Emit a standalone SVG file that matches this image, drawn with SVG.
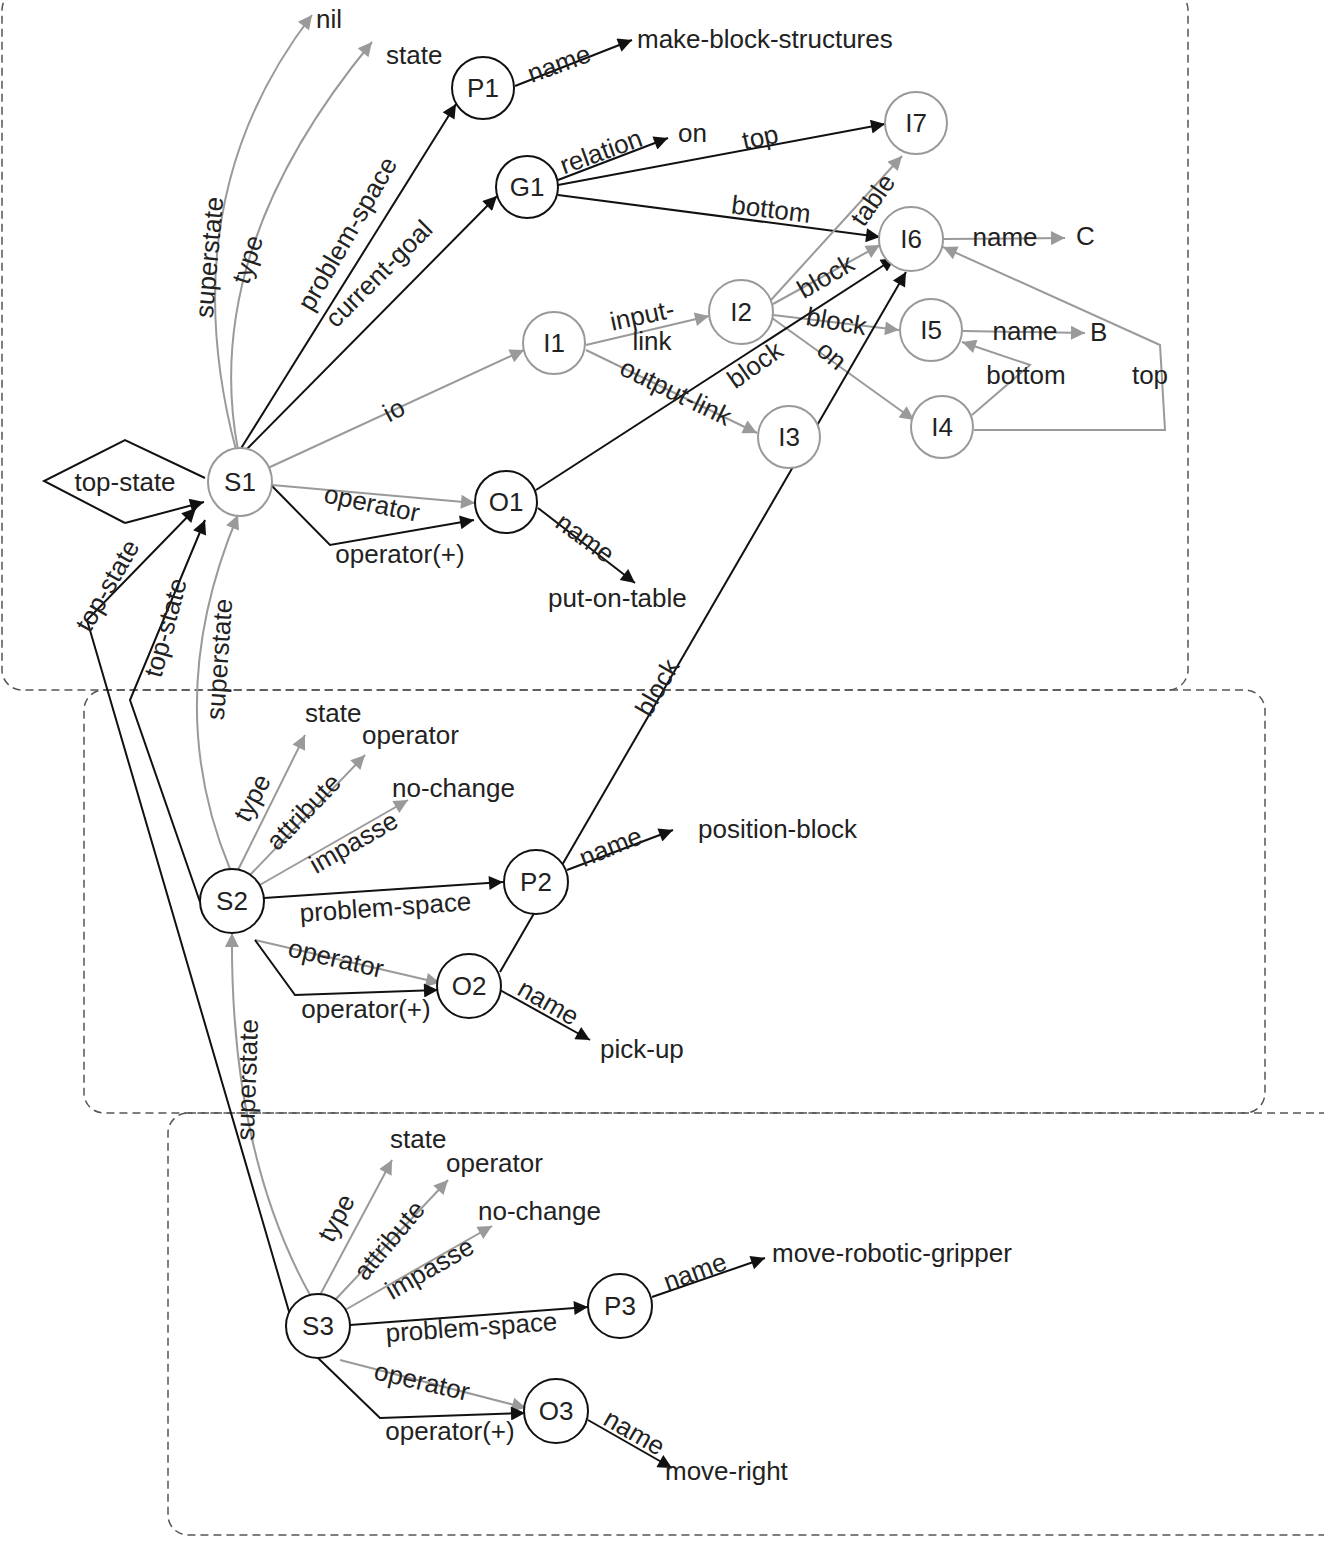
<svg xmlns="http://www.w3.org/2000/svg" width="1324" height="1547" viewBox="0 0 1324 1547">
<style>
text{font-family:"Liberation Sans",Arial,sans-serif;font-size:26px;fill:#222}
.n{text-anchor:middle;dominant-baseline:central}
.l{text-anchor:middle}
.k{fill:none;stroke:#111;stroke-width:2;marker-end:url(#ak)}
.g{fill:none;stroke:#9a9a9a;stroke-width:2;marker-end:url(#ag)}
.ck{fill:#fff;stroke:#111;stroke-width:2}
.cg{fill:#fff;stroke:#999;stroke-width:2}
.box{fill:none;stroke:#555;stroke-width:1.5;stroke-dasharray:8,5}
</style>
<defs>
<marker id="ak" viewBox="0 0 10 10" refX="10" refY="5" markerWidth="18" markerHeight="14" markerUnits="userSpaceOnUse" orient="auto"><path d="M0,0L10,5L0,10z" fill="#111"/></marker>
<marker id="ag" viewBox="0 0 10 10" refX="10" refY="5" markerWidth="18" markerHeight="14" markerUnits="userSpaceOnUse" orient="auto"><path d="M0,0L10,5L0,10z" fill="#9a9a9a"/></marker>
</defs>
<rect class="box" x="2" y="-10" width="1186" height="700" rx="20"/>
<rect class="box" x="84" y="690" width="1181" height="423" rx="20"/>
<rect class="box" x="168" y="1113" width="1180" height="422" rx="20"/>
<g id="connectors">
<path class="g" d="M236,450 Q170,200 312,15"/>
<path class="g" d="M238,450 Q200,250 372,42"/>
<path class="k" d="M240,450 L456,104"/>
<path class="k" d="M244,452 L497,196"/>
<path class="g" d="M268,468 L524,350"/>
<path class="g" d="M272,485 L475,503"/>
<path class="k" d="M272,486 L330,545 L474,520"/>
<path class="k" d="M515,86 L632,40"/>
<path class="k" d="M558,180 L668,138"/>
<path class="k" d="M558,185 L885,124"/>
<path class="k" d="M558,195 L880,237"/>
<path class="g" d="M773,304 L880,245"/>
<path class="g" d="M771,300 L902,156"/>
<path class="g" d="M943,239 L1065,238"/>
<path class="g" d="M974,430 L1165,430 L1160,345 L943,247"/>
<path class="g" d="M963,331 L1085,333"/>
<path class="g" d="M972,415 L1030,365 L962,342"/>
<path class="g" d="M586,345 L709,316"/>
<path class="g" d="M586,350 L757,433"/>
<path class="g" d="M773,315 L899,330"/>
<path class="g" d="M772,318 L914,420"/>
<path class="k" d="M536,490 L895,258"/>
<path class="k" d="M538,508 L635,583"/>
<path class="k" d="M500,972 L906,272"/>
<path class="k" d="M567,870 L673,830"/>
<path class="g" d="M230,869 Q160,700 238,515"/>
<path class="k" d="M200,902 L130,700 L205,520"/>
<path class="k" d="M290,1315 L87,620 L196,508"/>
<path class="k" d="M125,523 L204,502"/>
<path class="g" d="M238,870 L305,735"/>
<path class="g" d="M250,875 L365,755"/>
<path class="g" d="M258,886 L408,800"/>
<path class="k" d="M264,898 L503,882"/>
<path class="g" d="M255,940 L440,983"/>
<path class="k" d="M255,940 L295,995 L438,990"/>
<path class="k" d="M500,990 L590,1040"/>
<path class="g" d="M310,1295 Q230,1150 232,933"/>
<path class="g" d="M320,1295 L392,1160"/>
<path class="g" d="M335,1300 L448,1180"/>
<path class="g" d="M345,1310 L492,1226"/>
<path class="k" d="M350,1325 L588,1307"/>
<path class="g" d="M340,1360 L526,1408"/>
<path class="k" d="M318,1358 L380,1418 L525,1413"/>
<path class="k" d="M652,1297 L765,1258"/>
<path class="k" d="M588,1420 L672,1468"/>
</g>
<g id="edge-labels">
<text class="l" transform="translate(218,258) rotate(-85)">superstate</text>
<text class="l" transform="translate(256,262) rotate(-72)">type</text>
<text class="l" transform="translate(355,238) rotate(-60)">problem-space</text>
<text class="l" transform="translate(385,280) rotate(-45)">current-goal</text>
<text class="l" transform="translate(398,418) rotate(-28)">io</text>
<text class="l" transform="translate(370,512) rotate(12)">operator</text>
<text class="l" x="400" y="563">operator(+)</text>
<text class="l" transform="translate(562,72) rotate(-20)">name</text>
<text class="l" transform="translate(604,160) rotate(-20)">relation</text>
<text class="l" transform="translate(762,146) rotate(-12)">top</text>
<text class="l" transform="translate(770,218) rotate(7)">bottom</text>
<text class="l" transform="translate(830,284) rotate(-30)">block</text>
<text class="l" transform="translate(880,205) rotate(-55)">table</text>
<text class="l" x="1005" y="246">name</text>
<text class="l" x="1025" y="340">name</text>
<text class="l" x="1026" y="384">bottom</text>
<text class="l" x="1150" y="384">top</text>
<text class="l" transform="translate(644,324) rotate(-12)">input-</text>
<text class="l" x="652" y="350">link</text>
<text class="l" transform="translate(672,400) rotate(26)">output-link</text>
<text class="l" transform="translate(835,330) rotate(10)">block</text>
<text class="l" transform="translate(826,362) rotate(40)">on</text>
<text class="l" transform="translate(760,372) rotate(-35)">block</text>
<text class="l" transform="translate(580,545) rotate(36)">name</text>
<text class="l" transform="translate(665,692) rotate(-60)">block</text>
<text class="l" transform="translate(614,855) rotate(-22)">name</text>
<text class="l" transform="translate(228,660) rotate(-86)">superstate</text>
<text class="l" transform="translate(174,630) rotate(-75)">top-state</text>
<text class="l" transform="translate(115,590) rotate(-60)">top-state</text>
<text class="l" transform="translate(260,802) rotate(-62)">type</text>
<text class="l" transform="translate(310,818) rotate(-46)">attribute</text>
<text class="l" transform="translate(358,850) rotate(-30)">impasse</text>
<text class="l" transform="translate(386,916) rotate(-4)">problem-space</text>
<text class="l" transform="translate(334,967) rotate(13)">operator</text>
<text class="l" x="366" y="1018">operator(+)</text>
<text class="l" transform="translate(544,1010) rotate(30)">name</text>
<text class="l" transform="translate(256,1080) rotate(-88)">superstate</text>
<text class="l" transform="translate(344,1222) rotate(-62)">type</text>
<text class="l" transform="translate(396,1246) rotate(-50)">attribute</text>
<text class="l" transform="translate(434,1276) rotate(-30)">impasse</text>
<text class="l" transform="translate(472,1336) rotate(-4)">problem-space</text>
<text class="l" transform="translate(420,1390) rotate(13)">operator</text>
<text class="l" x="450" y="1440">operator(+)</text>
<text class="l" transform="translate(698,1280) rotate(-20)">name</text>
<text class="l" transform="translate(630,1440) rotate(30)">name</text>
</g>
<g id="values">
<text x="316" y="28">nil</text>
<text x="386" y="64">state</text>
<text x="637" y="48">make-block-structures</text>
<text x="678" y="142">on</text>
<text x="1076" y="245">C</text>
<text x="1090" y="341">B</text>
<text x="548" y="607">put-on-table</text>
<text x="305" y="722">state</text>
<text x="362" y="744">operator</text>
<text x="392" y="797">no-change</text>
<text x="698" y="838">position-block</text>
<text x="600" y="1058">pick-up</text>
<text x="390" y="1148">state</text>
<text x="446" y="1172">operator</text>
<text x="478" y="1220">no-change</text>
<text x="772" y="1262">move-robotic-gripper</text>
<text x="665" y="1480">move-right</text>
</g>
<g id="top-state-node"><path d="M205,478 L125,440 L44,481 L125,523" fill="none" stroke="#111" stroke-width="2"/><text class="n" x="125" y="482">top-state</text></g>
<g id="S1"><ellipse class="cg" cx="240" cy="482" rx="32" ry="34"/><text class="n" x="240" y="482">S1</text></g>
<g id="P1"><circle class="ck" cx="483" cy="88" r="31"/><text class="n" x="483" y="88">P1</text></g>
<g id="G1"><circle class="ck" cx="527" cy="187" r="31"/><text class="n" x="527" y="187">G1</text></g>
<g id="I7"><circle class="cg" cx="916" cy="123" r="31"/><text class="n" x="916" y="123">I7</text></g>
<g id="I6"><circle class="cg" cx="911" cy="239" r="32"/><text class="n" x="911" y="239">I6</text></g>
<g id="I1"><circle class="cg" cx="554" cy="343" r="31"/><text class="n" x="554" y="343">I1</text></g>
<g id="I2"><circle class="cg" cx="741" cy="312" r="32"/><text class="n" x="741" y="312">I2</text></g>
<g id="I5"><circle class="cg" cx="931" cy="330" r="31"/><text class="n" x="931" y="330">I5</text></g>
<g id="I4"><circle class="cg" cx="942" cy="427" r="31"/><text class="n" x="942" y="427">I4</text></g>
<g id="I3"><circle class="cg" cx="789" cy="437" r="31"/><text class="n" x="789" y="437">I3</text></g>
<g id="O1"><circle class="ck" cx="506" cy="502" r="31"/><text class="n" x="506" y="502">O1</text></g>
<g id="S2"><circle class="ck" cx="232" cy="901" r="32"/><text class="n" x="232" y="901">S2</text></g>
<g id="P2"><circle class="ck" cx="536" cy="882" r="32"/><text class="n" x="536" y="882">P2</text></g>
<g id="O2"><circle class="ck" cx="469" cy="986" r="32"/><text class="n" x="469" y="986">O2</text></g>
<g id="S3"><circle class="ck" cx="318" cy="1326" r="32"/><text class="n" x="318" y="1326">S3</text></g>
<g id="P3"><circle class="ck" cx="620" cy="1306" r="32"/><text class="n" x="620" y="1306">P3</text></g>
<g id="O3"><circle class="ck" cx="556" cy="1411" r="32"/><text class="n" x="556" y="1411">O3</text></g>
</svg>
